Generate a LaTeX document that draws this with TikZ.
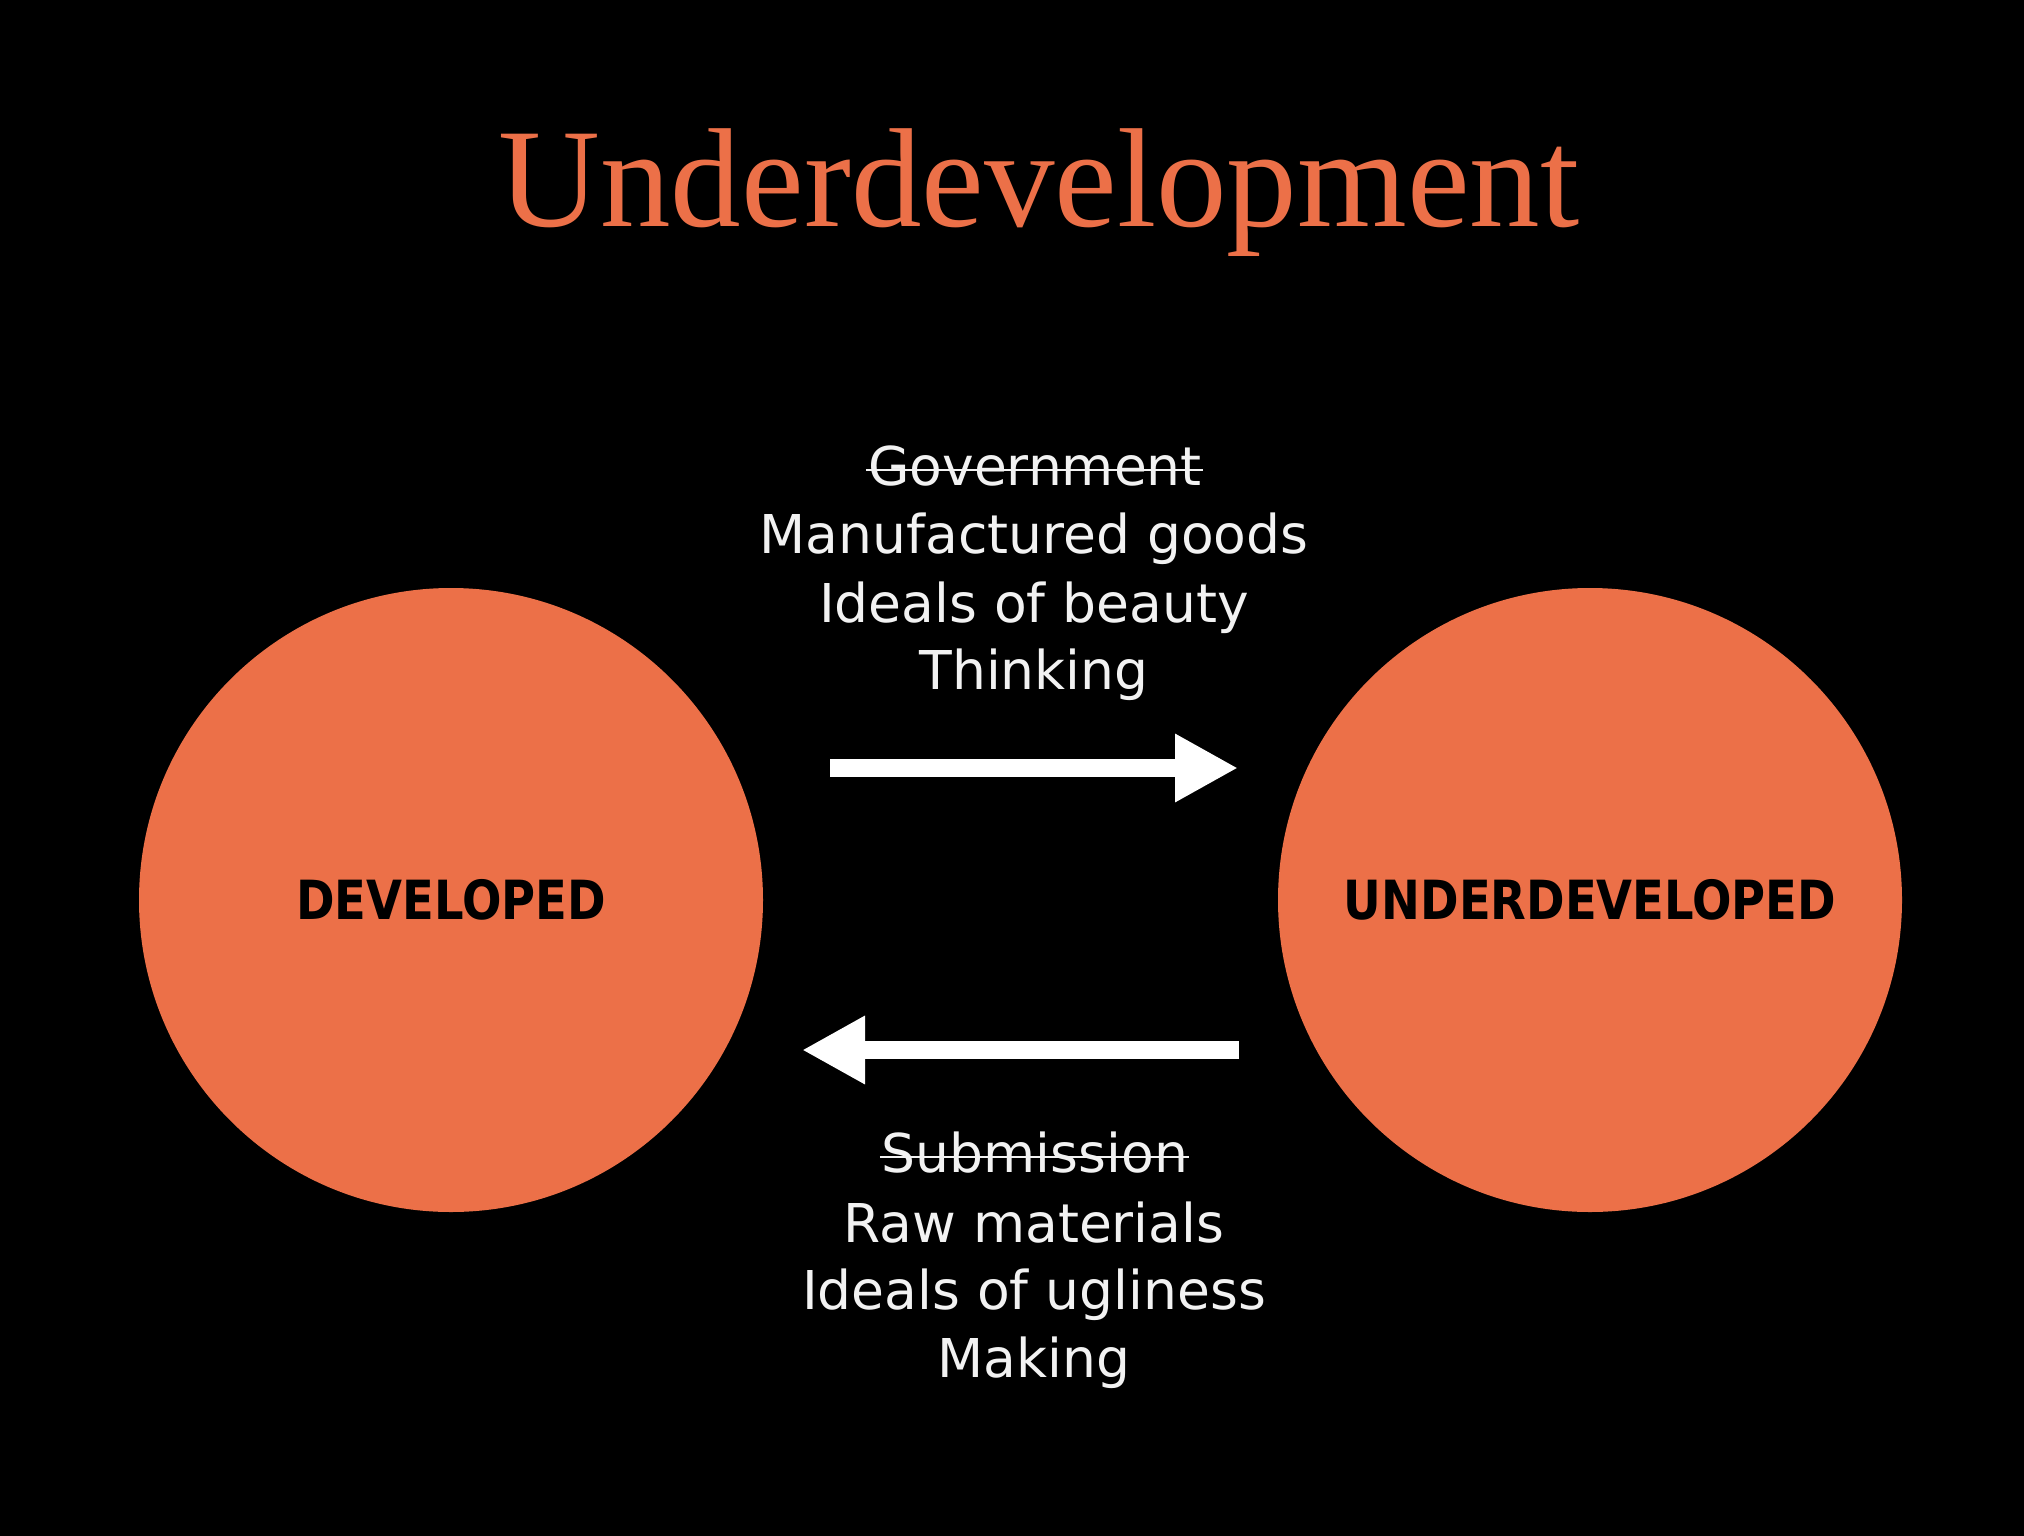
\documentclass[tikz,border=0pt]{standalone}
\usepackage{fontspec}
\usetikzlibrary{arrows.meta}
\setmainfont{DejaVu Sans}
\newfontfamily\titlefont{Liberation Serif}
\newfontfamily\lblfont[FakeStretch=0.86]{DejaVu Sans}
\definecolor{orng}{RGB}{236,112,72}
\definecolor{txtw}{RGB}{242,242,242}
\tikzset{
  circ/.style={circle, fill=orng, minimum size=624pt, inner sep=0pt},
  circlbl/.style={font=\lblfont\bfseries\fontsize{54}{60}\selectfont, text=black},
  flowtxt/.style={anchor=base, inner sep=0pt, text=txtw, font=\fontsize{53.5}{64}\selectfont},
  bigarrow/.style={draw=white, line width=18pt, -{Triangle[length=63pt,width=64pt]}},
  strike/.style={draw=txtw, line width=2.6pt}
}
\begin{document}
\begin{tikzpicture}[x=1pt,y=-1pt]
\fill[black] (0,0) rectangle (2024,1536);
\useasboundingbox (0,0) rectangle (2024,1536);
% title
\node[anchor=base, inner sep=0pt, text=orng, font=\titlefont\fontsize{141}{160}\selectfont] (title) at (1039,226) {Underdevelopment};
% circles
\node[circ] (dev) at (451,900) {};
\node[circ] (und) at (1590,900) {};
\node[circlbl] (devl) at (dev) {DEVELOPED};
\node[circlbl] (undl) at (und) {UNDERDEVELOPED};
% top block
\node[flowtxt] (gov) at (1035,485) {Government};
\node[flowtxt] (man) at (1034,553) {Manufactured goods};
\node[flowtxt] (beau) at (1034,622) {Ideals of beauty};
\node[flowtxt] (think) at (1034,689) {Thinking};
\draw[strike] ([xshift=-2pt,yshift=15pt]gov.base west) -- ([xshift=1pt,yshift=15pt]gov.base east);
% bottom block
\node[flowtxt] (sub) at (1035,1172) {Submission};
\node[flowtxt] (raw) at (1034,1242) {Raw materials};
\node[flowtxt] (ugly) at (1034,1309) {Ideals of ugliness};
\node[flowtxt] (mak) at (1034,1377) {Making};
\draw[strike] ([xshift=-2pt,yshift=15pt]sub.base west) -- ([xshift=1pt,yshift=15pt]sub.base east);
% arrows
\coordinate (r1) at (830,768);
\coordinate (r2) at (1238,768);
\coordinate (l1) at (1239,1050);
\coordinate (l2) at (802,1050);
\draw[bigarrow] (r1) -- (r2);
\draw[bigarrow] (l1) -- (l2);
\end{tikzpicture}
\end{document}
